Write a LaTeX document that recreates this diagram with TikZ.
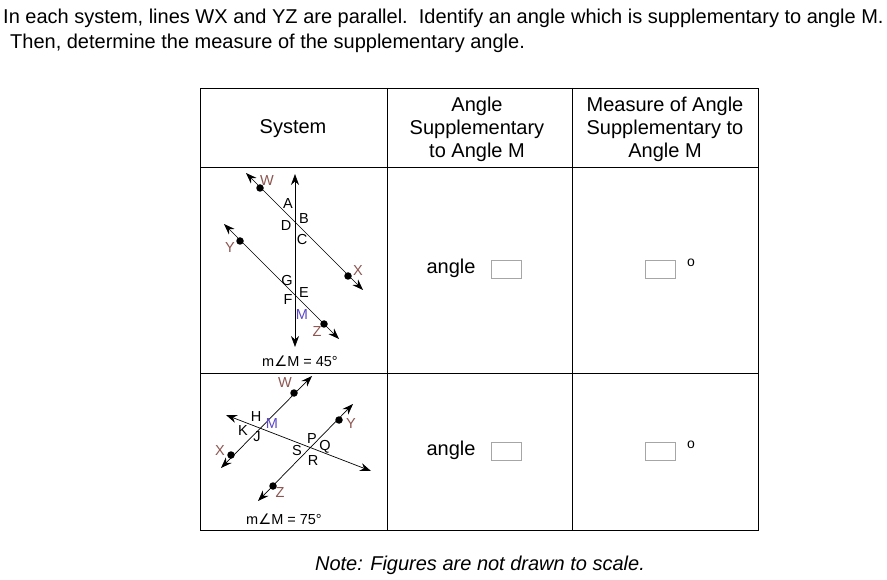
\documentclass[tikz,border=0pt]{standalone}
\usepackage{fontspec}
\setmainfont{Liberation Sans}
\newfontfamily\symfont{DejaVu Sans}
\usetikzlibrary{arrows.meta}
\definecolor{pbrown}{RGB}{140,85,80}
\definecolor{mblue}{RGB}{90,70,200}
\begin{document}
\begin{tikzpicture}[x=1pt,y=-1pt,
  ln/.style={line width=0.7pt,{Stealth[length=11pt,width=8pt]}-{Stealth[length=11pt,width=8pt]}},
  dot/.style={circle,fill=black,inner sep=0pt,minimum size=7.5pt},
  lb/.style={font=\fontsize{14.5}{16}\selectfont,inner sep=0pt},
  pt/.style={lb,text=pbrown},
  mm/.style={lb,text=mblue},
  hd/.style={font=\fontsize{20}{23}\selectfont,align=center},
  box/.style={draw=gray!70,minimum width=30pt,minimum height=18pt,inner sep=0pt},
  txt/.style={font=\fontsize{20}{22}\selectfont,inner sep=0pt}]
\useasboundingbox (0,0) rectangle (887,580);
\node[txt,anchor=west] (t1) at (3,18) {In each system, lines WX and YZ are parallel.\ \ Identify an angle which is supplementary to angle M.};
\node[txt,anchor=west] (t2) at (10,43) {Then, determine the measure of the supplementary angle.};
% table
\draw[line width=0.8pt] (200,88) rectangle (758,530);
\draw[line width=0.8pt] (387,88) -- (387,530) (572,88) -- (572,530) (200,167) -- (758,167) (200,373) -- (758,373);
\node[hd] (h1) at (293,129) {System};
\node[hd] (h2) at (477,129) {Angle\\Supplementary\\to Angle M};
\node[hd] (h3) at (665,129) {Measure of Angle\\Supplementary to\\Angle M};
\node[txt] (a1) at (451,268) {angle};
\node[box] (b1) at (506,269) {};
\node[box] (c1) at (660,269) {};
\node[txt] (d1) at (691,263) {\fontsize{14}{14}\selectfont o};
\node[txt] (a2) at (451,450) {angle};
\node[box] (b2) at (506,451) {};
\node[box] (c2) at (660,451) {};
\node[txt] (d2) at (691,445) {\fontsize{14}{14}\selectfont o};
\node[txt,font=\fontsize{20}{22}\itshape] (note) at (480,565) {Note: Figures are not drawn to scale.};
% figure 1
\coordinate (v1) at (295,174); \coordinate (v2) at (295,347);
\coordinate (w1) at (246,173); \coordinate (w2) at (363,290);
\coordinate (y1) at (224,224); \coordinate (y2) at (339,339);
\draw[ln] (v1) -- (v2);
\draw[ln] (w1) -- (w2);
\draw[ln] (y1) -- (y2);
\node[dot] (W) at (260,188) {}; \node[dot] (X) at (348,276) {};
\node[dot] (Y) at (240,241) {}; \node[dot] (Z) at (324,324) {};
\node[pt] (lW) at (267,181) {W}; \node[pt] (lX) at (358,271) {X};
\node[pt] (lY) at (230,248) {Y}; \node[pt] (lZ) at (317,332) {Z};
\node[lb] (lA) at (288,204) {A}; \node[lb] (lB) at (304,219) {B};
\node[lb] (lD) at (286,226) {D}; \node[lb] (lC) at (302,240) {C};
\node[lb] (lG) at (287,281) {G}; \node[lb] (lE) at (304,293) {E};
\node[lb] (lF) at (288,300) {F}; \node[mm] (lM) at (302,315) {M};
\node[lb] (m1) at (300,361) {m{\symfont ∠}M = 45°};
% figure 2
\coordinate (p1) at (221,468); \coordinate (p2) at (312,376);
\coordinate (q1) at (258,501); \coordinate (q2) at (353,404);
\coordinate (r1) at (226,415); \coordinate (r2) at (371,471);
\draw[ln] (p1) -- (p2);
\draw[ln] (q1) -- (q2);
\draw[ln] (r1) -- (r2);
\node[dot] (W2) at (294,393) {}; \node[dot] (X2) at (231,455) {};
\node[dot] (Y2) at (339,420) {}; \node[dot] (Z2) at (273,486) {};
\node[pt] (lW2) at (285,383) {W}; \node[pt] (lX2) at (220,451) {X};
\node[pt] (lY2) at (351,424) {Y}; \node[pt] (lZ2) at (280,493) {Z};
\node[lb] (lH) at (256,417) {H}; \node[mm] (lM2) at (272,424) {M};
\node[lb] (lK) at (243,431) {K}; \node[lb] (lJ) at (257,437) {J};
\node[lb] (lP) at (312,439) {P}; \node[lb] (lQ) at (325,447) {Q};
\node[lb] (lS) at (297,451) {S}; \node[lb] (lR) at (313,461) {R};
\node[lb] (m2) at (284,519) {m{\symfont ∠}M = 75°};
\end{tikzpicture}
\end{document}
